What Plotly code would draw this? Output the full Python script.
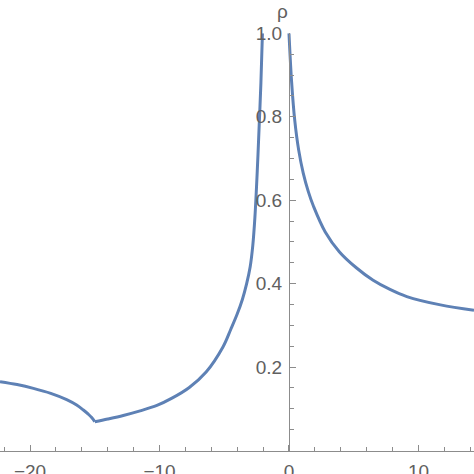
import plotly.graph_objects as go

# Left branch (ends at cusp)
left_x = [-22.32, -21.0, -19.74, -18.4, -17.17, -16.4, -15.88, -15.5, -15.24, -15.0]
left_y = [0.165, 0.158, 0.149, 0.137, 0.122, 0.109, 0.097, 0.087, 0.079, 0.069]

# Middle branch (cusp up to rho = 1)
mid_x = [-15.0, -14.0, -12.8, -11.5, -10.2, -9.0, -7.7, -6.4, -5.1, -4.5, -4.0, -3.6, -3.27, -3.0, -2.8, -2.63, -2.45, -2.3, -2.17, -2.05]
mid_y = [0.069, 0.0755, 0.084, 0.095, 0.108, 0.126, 0.151, 0.188, 0.248, 0.29, 0.327, 0.362, 0.40, 0.44, 0.49, 0.56, 0.67, 0.78, 0.88, 1.0]

# Right branch
right_x = [0.0, 0.2, 0.45, 0.75, 1.1, 1.5, 1.9, 2.8, 3.9, 5.2, 6.5, 7.8, 9.1, 11.7, 14.29]
right_y = [1.0, 0.885, 0.79, 0.72, 0.665, 0.62, 0.585, 0.524, 0.476, 0.438, 0.408, 0.386, 0.369, 0.349, 0.336]

x_tickvals = [-20, -10, 0, 10]
x_ticktext = ["\u221220", "\u221210", "0", "10"]
y_tickvals = [0.2, 0.4, 0.6, 0.8, 1.0]
y_ticktext = ["0.2", "0.4", "0.6", "0.8", "1.0"]

LINE = "#5E81B5"
AXIS = "#8c8c8c"
TXT = "#606060"
FONT = "Liberation Sans, Arial, sans-serif"

fig = go.Figure()
for xs, ys in [(left_x, left_y), (mid_x, mid_y), (right_x, right_y)]:
    fig.add_trace(go.Scatter(x=xs, y=ys, mode="lines",
                             line=dict(color=LINE, width=3, shape="spline", smoothing=1.0),
                             cliponaxis=False, showlegend=False, hoverinfo="skip"))

W = 474
fig.update_layout(
    width=W, height=W,
    margin=dict(l=0, r=0, t=0, b=0),
    paper_bgcolor="white", plot_bgcolor="white",
    showlegend=False,
    xaxis=dict(
        domain=[0, 1], range=[-22.32, 14.29], anchor="y",
        showgrid=False, zeroline=False, showline=True, linecolor=AXIS, linewidth=1,
        tickmode="array", tickvals=x_tickvals, ticktext=x_ticktext,
        ticks="inside", ticklen=6, tickcolor=AXIS, tickwidth=1,
        minor=dict(ticks="inside", dtick=2, tick0=0, ticklen=3.5, tickcolor=AXIS, tickwidth=1, showgrid=False),
        tickfont=dict(family=FONT, size=19, color=TXT),
        ticklabelstandoff=4,
        automargin=False, fixedrange=True,
    ),
    yaxis=dict(
        domain=[23.5 / W, 1 - 33.3 / W], range=[0, 1], anchor="free", position=289 / W,
        showgrid=False, zeroline=False, showline=True, linecolor=AXIS, linewidth=1,
        tickmode="array", tickvals=y_tickvals, ticktext=y_ticktext,
        ticks="inside", ticklen=6, tickcolor=AXIS, tickwidth=1,
        minor=dict(ticks="inside", dtick=0.05, tick0=0, ticklen=3.5, tickcolor=AXIS, tickwidth=1, showgrid=False),
        tickfont=dict(family=FONT, size=19, color=TXT),
        ticklabelstandoff=3,
        automargin=False, fixedrange=True,
    ),
    annotations=[dict(text="\u03c1", x=0, xref="x", xanchor="right", xshift=1,
                      y=1 - 11 / W, yref="paper", yanchor="middle",
                      showarrow=False, font=dict(family=FONT, size=19, color=TXT))],
)

fig.write_html("out.html", config={"displayModeBar": False, "staticPlot": True},
               post_script="document.body.style.margin='0';document.body.style.overflow='hidden';")
